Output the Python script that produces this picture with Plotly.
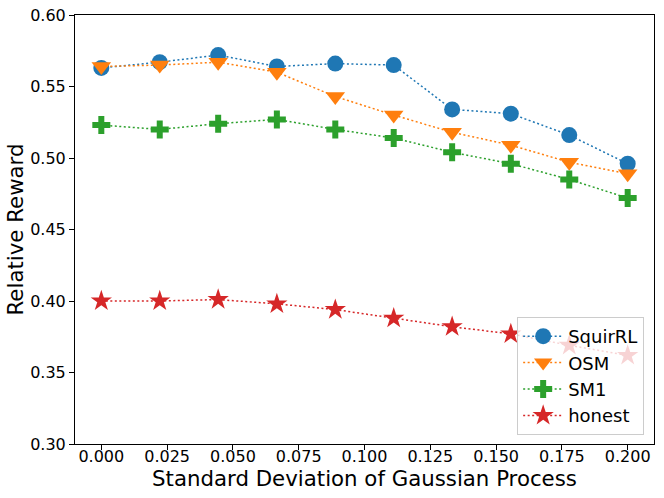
import plotly.graph_objects as go

x_vals = [0.0, 0.0222, 0.0444, 0.0667, 0.0889, 0.1111, 0.1333, 0.1556, 0.1778, 0.2]
squirrl = [0.563, 0.567, 0.572, 0.564, 0.566, 0.565, 0.534, 0.531, 0.516, 0.496]
osm = [0.564, 0.565, 0.567, 0.560, 0.543, 0.530, 0.518, 0.509, 0.497, 0.489]
sm1 = [0.523, 0.520, 0.524, 0.527, 0.520, 0.514, 0.504, 0.496, 0.485, 0.472]
honest = [0.400, 0.400, 0.401, 0.398, 0.394, 0.388, 0.382, 0.377, 0.369, 0.362]

series = [
    ("SquirRL", squirrl, "#1f77b4", "circle", 16),
    ("OSM", osm, "#ff7f0e", "triangle-down", 17),
    ("SM1", sm1, "#2ca02c", "cross", 15),
    ("honest", honest, "#d62728", "star", 16),
]

fig = go.Figure()
for name, vals, color, sym, size in series:
    fig.add_trace(go.Scatter(
        x=x_vals, y=vals, name=name, mode="lines+markers",
        line=dict(color=color, width=1.5, dash="2px,2.5px"),
        marker=dict(symbol=sym, size=size, color=color, line=dict(width=0)),
    ))

axis_common = dict(
    showline=True, linecolor="black", linewidth=1, mirror=True,
    ticks="outside", ticklen=5, tickcolor="black", showgrid=False,
    zeroline=False, tickfont=dict(size=16, color="black"), automargin=False,
)

fig.update_layout(
    width=664, height=498,
    margin=dict(l=75, r=10, t=15, b=54),
    paper_bgcolor="white", plot_bgcolor="white",
    font=dict(family="DejaVu Sans", color="black"),
    xaxis=dict(range=[-0.01, 0.21], tickvals=[0, 0.025, 0.05, 0.075, 0.1, 0.125, 0.15, 0.175, 0.2],
               tickformat=".3f", ticklabelstandoff=-7,
               title=dict(text="Standard Deviation of Gaussian Process", font=dict(size=21.3), standoff=1),
               **axis_common),
    yaxis=dict(range=[0.30, 0.60], dtick=0.05, tickformat=".2f",
               title=dict(text="Relative Reward", font=dict(size=21.3), standoff=0),
               **axis_common),
    legend=dict(x=0.983, y=0.021, xanchor="right", yanchor="bottom",
                bgcolor="rgba(255,255,255,0.8)", bordercolor="#cccccc", borderwidth=1,
                font=dict(size=18), itemwidth=40),
)

fig.write_html("out.html", config={"displayModeBar": False},
               post_script="document.body.style.margin='0';")
